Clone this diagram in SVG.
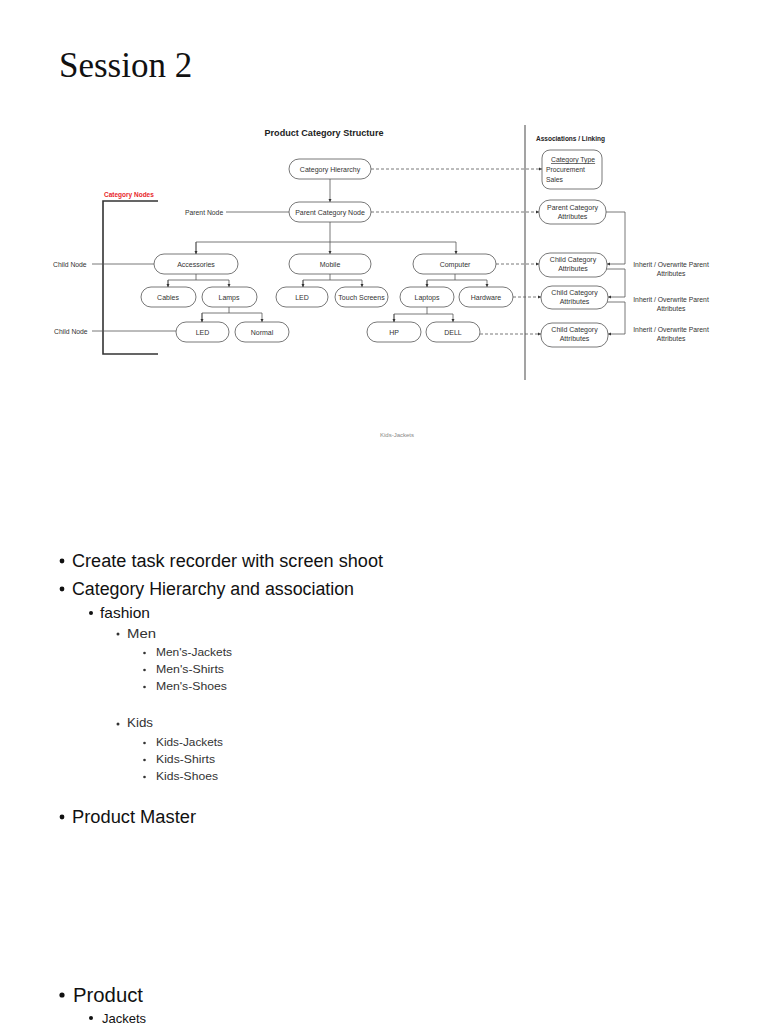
<svg xmlns="http://www.w3.org/2000/svg" width="768" height="1024" viewBox="0 0 768 1024">
<defs>
<marker id="ah" viewBox="0 0 6 6" refX="6" refY="3" markerWidth="4" markerHeight="4" orient="auto"><path d="M0,0 L6,3 L0,6 Z" fill="#333"/></marker>
<style>
.pill{fill:#fff;stroke:#555;stroke-width:0.8}
.nt{font-family:"Liberation Sans",Arial,sans-serif;font-size:7px;fill:#333;text-anchor:middle}
.lt{font-family:"Liberation Sans",Arial,sans-serif;font-size:6.8px;fill:#333}
.ln{stroke:#555;stroke-width:0.8;fill:none}
.dash{stroke:#555;stroke-width:0.8;fill:none;stroke-dasharray:3 2}
.b{font-family:"Liberation Sans",Arial,sans-serif;fill:#111}
</style>
</defs>
<rect width="768" height="1024" fill="#fff"/>
<text x="59" y="77" font-family="Liberation Serif,serif" font-size="35" fill="#111">Session 2</text>

<!-- Diagram headings -->
<text x="324" y="136" font-family="Liberation Sans,Arial,sans-serif" font-size="8.5" font-weight="bold" fill="#222" text-anchor="middle" textLength="119" lengthAdjust="spacingAndGlyphs">Product Category Structure</text>
<text x="536" y="141" font-family="Liberation Sans,Arial,sans-serif" font-size="6.5" font-weight="bold" fill="#222">Associations / Linking</text>
<text x="104" y="197" font-family="Liberation Sans,Arial,sans-serif" font-size="6.5" font-weight="bold" fill="#e8262b">Category Nodes</text>

<!-- bracket and separator -->
<path d="M158,201 H103 V354 H158" fill="none" stroke="#333" stroke-width="1.6"/>
<line x1="525" y1="125" x2="525" y2="380" stroke="#666" stroke-width="1.2"/>

<text class="lt" x="185" y="214.5">Parent Node</text>
<text class="lt" x="53" y="266.5">Child Node</text>
<text class="lt" x="54" y="333.5">Child Node</text>

<g id="connectors">
<line class="ln" x1="226" y1="212" x2="289" y2="212"/>
<line class="ln" x1="92" y1="264" x2="154" y2="264"/>
<line class="ln" x1="92" y1="331" x2="176" y2="331"/>
<line class="ln" x1="330" y1="179" x2="330" y2="202" marker-end="url(#ah)"/>
<line class="ln" x1="330" y1="222" x2="330" y2="254" marker-end="url(#ah)"/>
<path class="ln" d="M196,254 V242 H456 V254" marker-end="url(#ah)"/>
<line class="ln" x1="196" y1="242" x2="196" y2="254" marker-end="url(#ah)"/>
<path class="ln" d="M196,274 V280"/>
<path class="ln" d="M168,287 V280 H229 V287" marker-end="url(#ah)"/>
<line class="ln" x1="168" y1="280" x2="168" y2="287" marker-end="url(#ah)"/>
<path class="ln" d="M330,274 V280"/>
<path class="ln" d="M303,287 V280 H362 V287" marker-end="url(#ah)"/>
<line class="ln" x1="303" y1="280" x2="303" y2="287" marker-end="url(#ah)"/>
<path class="ln" d="M455,274 V280"/>
<path class="ln" d="M427,287 V280 H487 V287" marker-end="url(#ah)"/>
<line class="ln" x1="427" y1="280" x2="427" y2="287" marker-end="url(#ah)"/>
<path class="ln" d="M229,307 V313"/>
<path class="ln" d="M202,322 V313 H262 V322" marker-end="url(#ah)"/>
<line class="ln" x1="202" y1="313" x2="202" y2="322" marker-end="url(#ah)"/>
<path class="ln" d="M427,307 V314"/>
<path class="ln" d="M394,322 V314 H453 V322" marker-end="url(#ah)"/>
<line class="ln" x1="394" y1="314" x2="394" y2="322" marker-end="url(#ah)"/>
<line class="dash" x1="371" y1="169" x2="542" y2="169" marker-end="url(#ah)"/>
<line class="dash" x1="371" y1="212" x2="539" y2="212" marker-end="url(#ah)"/>
<line class="dash" x1="496" y1="264" x2="539" y2="264" marker-end="url(#ah)"/>
<line class="dash" x1="513" y1="297" x2="541" y2="297" marker-end="url(#ah)"/>
<line class="dash" x1="480" y1="334" x2="541" y2="334" marker-end="url(#ah)"/>
<path class="ln" d="M606,212 H625 V264 H607" marker-end="url(#ah)"/>
<path class="ln" d="M606,269 H625 V297 H608" marker-end="url(#ah)"/>
<path class="ln" d="M607,302 H625 V334 H608" marker-end="url(#ah)"/>
</g>

<g id="n-cathier"><rect class="pill" x="289" y="159" width="82" height="20" rx="10"/><text class="nt" x="330" y="171.5">Category Hierarchy</text></g>
<g id="n-parent"><rect class="pill" x="289" y="202" width="82" height="20" rx="10"/><text class="nt" x="330" y="214.5">Parent Category Node</text></g>
<g id="n-acc"><rect class="pill" x="154" y="254" width="84" height="20" rx="10"/><text class="nt" x="196" y="266.5">Accessories</text></g>
<g id="n-mobile"><rect class="pill" x="289" y="254" width="82" height="20" rx="10"/><text class="nt" x="330" y="266.5">Mobile</text></g>
<g id="n-computer"><rect class="pill" x="413" y="254" width="83" height="20" rx="10"/><text class="nt" x="455" y="266.5">Computer</text></g>
<g id="n-cables"><rect class="pill" x="141" y="287" width="55" height="20" rx="10"/><text class="nt" x="168" y="299.5">Cables</text></g>
<g id="n-lamps"><rect class="pill" x="202" y="287" width="55" height="20" rx="10"/><text class="nt" x="229" y="299.5">Lamps</text></g>
<g id="n-led1"><rect class="pill" x="276" y="287" width="52" height="20" rx="10"/><text class="nt" x="302" y="299.5">LED</text></g>
<g id="n-touch"><rect class="pill" x="335" y="287" width="53" height="20" rx="10"/><text class="nt" x="361.5" y="299.5">Touch Screens</text></g>
<g id="n-laptops"><rect class="pill" x="400" y="287" width="54" height="20" rx="10"/><text class="nt" x="427" y="299.5">Laptops</text></g>
<g id="n-hardware"><rect class="pill" x="459" y="287" width="54" height="20" rx="10"/><text class="nt" x="486" y="299.5">Hardware</text></g>
<g id="n-led2"><rect class="pill" x="176" y="322" width="53" height="20" rx="10"/><text class="nt" x="202.5" y="334.5">LED</text></g>
<g id="n-normal"><rect class="pill" x="235" y="322" width="54" height="20" rx="10"/><text class="nt" x="262" y="334.5">Normal</text></g>
<g id="n-hp"><rect class="pill" x="367" y="322" width="54" height="20" rx="10"/><text class="nt" x="394" y="334.5">HP</text></g>
<g id="n-dell"><rect class="pill" x="426" y="322" width="54" height="20" rx="10"/><text class="nt" x="453" y="334.5">DELL</text></g>

<g id="n-cattype"><rect class="pill" x="542" y="150" width="60" height="39" rx="8"/>
<text class="lt" x="551" y="162" text-decoration="underline">Category Type</text>
<text class="lt" x="546" y="172">Procurement</text>
<text class="lt" x="546" y="182">Sales</text></g>
<g id="n-pca"><rect class="pill" x="539" y="200" width="67" height="24" rx="11"/><text class="nt" x="572.5" y="209.5">Parent Category</text><text class="nt" x="572.5" y="218.5">Attributes</text></g>
<g id="n-cca1"><rect class="pill" x="539" y="253" width="68" height="24" rx="11"/><text class="nt" x="573" y="262">Child Category</text><text class="nt" x="573" y="271">Attributes</text></g>
<g id="n-cca2"><rect class="pill" x="541" y="286" width="67" height="23" rx="11"/><text class="nt" x="574.5" y="294.5">Child Category</text><text class="nt" x="574.5" y="303.5">Attributes</text></g>
<g id="n-cca3"><rect class="pill" x="541" y="323" width="67" height="24" rx="11"/><text class="nt" x="574.5" y="332">Child Category</text><text class="nt" x="574.5" y="341">Attributes</text></g>

<g>
<text class="lt" x="671" y="266.5" text-anchor="middle">Inherit / Overwrite Parent</text>
<text class="lt" x="671" y="276" text-anchor="middle">Attributes</text>
<text class="lt" x="671" y="301.5" text-anchor="middle">Inherit / Overwrite Parent</text>
<text class="lt" x="671" y="311" text-anchor="middle">Attributes</text>
<text class="lt" x="671" y="331.5" text-anchor="middle">Inherit / Overwrite Parent</text>
<text class="lt" x="671" y="341" text-anchor="middle">Attributes</text>
</g>

<text x="397" y="437" font-family="Liberation Sans,Arial,sans-serif" font-size="6" fill="#888" text-anchor="middle">Kids-Jackets</text>

<g class="b">
<circle cx="62" cy="561" r="2.4"/>
<text x="72" y="567" font-size="18" textLength="311" lengthAdjust="spacingAndGlyphs">Create task recorder with screen shoot</text>
<circle cx="62" cy="589" r="2.4"/>
<text x="72" y="595" font-size="18" textLength="282" lengthAdjust="spacingAndGlyphs">Category Hierarchy and association</text>
<circle cx="91" cy="613" r="2"/>
<text x="100" y="618" font-size="15" textLength="50" lengthAdjust="spacingAndGlyphs">fashion</text>
<circle cx="118" cy="634" r="1.5" fill="#333"/>
<text x="127" y="638" font-size="13" fill="#333" textLength="29" lengthAdjust="spacingAndGlyphs">Men</text>
<circle cx="144.5" cy="653" r="1.3" fill="#333"/>
<text x="156" y="656" font-size="11.5" fill="#333" textLength="76" lengthAdjust="spacingAndGlyphs">Men's-Jackets</text>
<circle cx="144.5" cy="670" r="1.3" fill="#333"/>
<text x="156" y="673" font-size="11.5" fill="#333" textLength="68" lengthAdjust="spacingAndGlyphs">Men's-Shirts</text>
<circle cx="144.5" cy="687" r="1.3" fill="#333"/>
<text x="156" y="690" font-size="11.5" fill="#333" textLength="71" lengthAdjust="spacingAndGlyphs">Men's-Shoes</text>
<circle cx="118" cy="724" r="1.5" fill="#333"/>
<text x="127" y="727" font-size="13" fill="#333" textLength="26" lengthAdjust="spacingAndGlyphs">Kids</text>
<circle cx="144.5" cy="743" r="1.3" fill="#333"/>
<text x="156" y="746" font-size="11.5" fill="#333" textLength="67" lengthAdjust="spacingAndGlyphs">Kids-Jackets</text>
<circle cx="144.5" cy="760" r="1.3" fill="#333"/>
<text x="156" y="763" font-size="11.5" fill="#333" textLength="59" lengthAdjust="spacingAndGlyphs">Kids-Shirts</text>
<circle cx="144.5" cy="777" r="1.3" fill="#333"/>
<text x="156" y="780" font-size="11.5" fill="#333" textLength="62" lengthAdjust="spacingAndGlyphs">Kids-Shoes</text>
<circle cx="62" cy="817" r="2.4"/>
<text x="72" y="823" font-size="18" textLength="124" lengthAdjust="spacingAndGlyphs">Product Master</text>
<circle cx="62" cy="995" r="2.6"/>
<text x="73" y="1002" font-size="20" textLength="70" lengthAdjust="spacingAndGlyphs">Product</text>
<circle cx="91" cy="1018" r="2"/>
<text x="102" y="1023" font-size="13">Jackets</text>
</g>
</svg>
